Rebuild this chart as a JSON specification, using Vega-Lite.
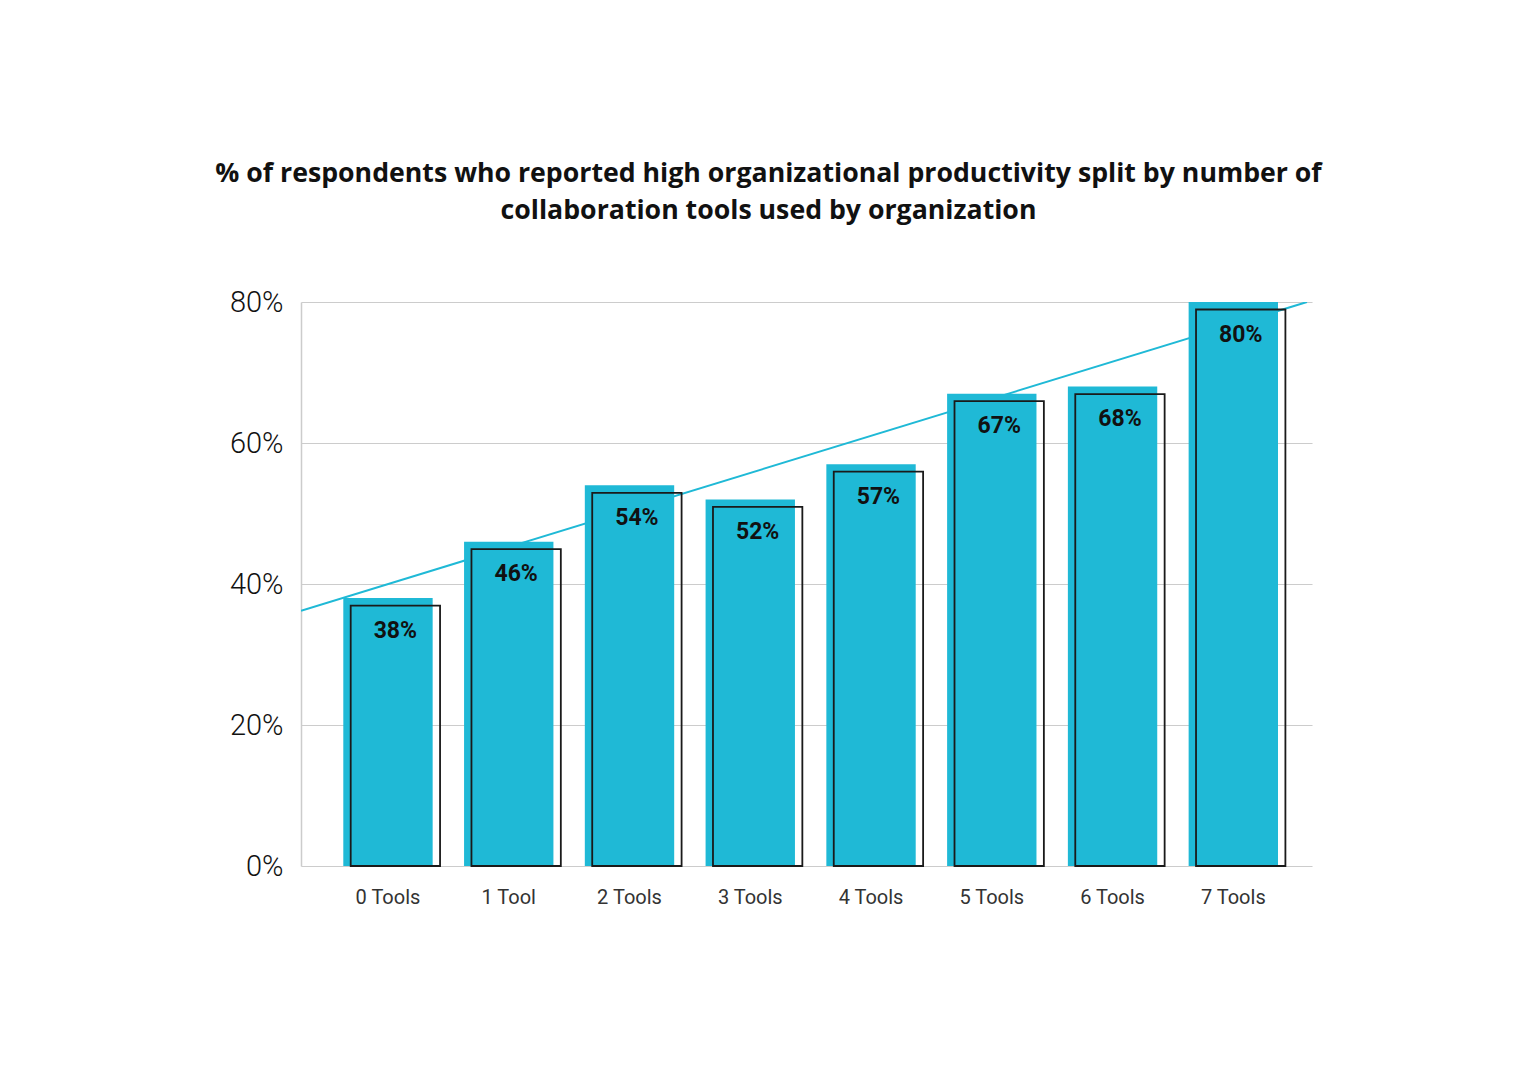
{
  "$schema": "https://vega.github.io/schema/vega-lite/v6.json",
  "autosize": {"type": "none"},
  "padding": {"left": 301, "top": 302, "right": 224, "bottom": 220},
  "width": 1011,
  "height": 564,
  "background": "white",
  "title": {
    "text": [
      "% of respondents who reported high organizational productivity split by number of",
      "collaboration tools used by organization"
    ],
    "anchor": "middle",
    "dx": -38,
    "offset": 36,
    "baseline": "bottom",
    "font": "Open Sans",
    "fontSize": 26.7,
    "fontWeight": "bold",
    "lineHeight": 37,
    "color": "#111111"
  },
  "datasets": {
    "bars": [
      {"tools": "0 Tools", "pct": 0.38},
      {"tools": "1 Tool", "pct": 0.46},
      {"tools": "2 Tools", "pct": 0.54},
      {"tools": "3 Tools", "pct": 0.52},
      {"tools": "4 Tools", "pct": 0.57},
      {"tools": "5 Tools", "pct": 0.67},
      {"tools": "6 Tools", "pct": 0.68},
      {"tools": "7 Tools", "pct": 0.80}
    ],
    "trend": [
      {"i": -0.72, "v": 0.362},
      {"i": 7.61, "v": 0.80}
    ]
  },
  "layer": [
    {
      "data": {"name": "trend"},
      "mark": {"type": "line", "color": "#1fb9d6", "strokeWidth": 2, "clip": true},
      "encoding": {
        "x": {"field": "i", "type": "quantitative", "scale": {"domain": [-0.7204, 7.6516], "nice": false, "zero": false}, "axis": null},
        "y": {
          "field": "v",
          "type": "quantitative",
          "scale": {"domain": [0, 0.8], "nice": false},
          "axis": {
            "title": null,
            "values": [0, 0.2, 0.4, 0.6, 0.8],
            "format": ".0%",
            "labelFont": "Roboto",
            "labelFontSize": 29,
            "labelFontWeight": 300,
            "labelColor": "#111111",
            "labelPadding": 18,
            "ticks": false,
            "domain": true,
            "domainColor": "#cccccc",
            "domainWidth": 1.5,
            "grid": true,
            "gridColor": "#cccccc",
            "gridWidth": 1.2
          }
        }
      }
    },
    {
      "data": {"name": "bars"},
      "layer": [
        {
          "mark": {"type": "bar", "color": "#1fb9d6"}
        },
        {
          "mark": {"type": "bar", "fill": null, "fillOpacity": 0, "stroke": "#1a1a1a", "strokeWidth": 1.8, "xOffset": 7.4, "yOffset": 7.5, "y2Offset": 0.01},
          "encoding": {
            "y2": {"datum": 0}
          }
        },
        {
          "mark": {"type": "text", "font": "Roboto", "fontSize": 23, "fontWeight": "bold", "color": "#111111", "baseline": "top", "dx": 7.4, "dy": 21.5},
          "encoding": {
            "text": {"field": "pct", "type": "quantitative", "format": ".0%"}
          }
        }
      ],
      "encoding": {
        "x": {
          "field": "tools",
          "type": "nominal",
          "sort": null,
          "scale": {"range": [26.6, 992.7], "paddingInner": 0.26, "paddingOuter": 0.13},
          "axis": {
            "title": null,
            "labelAngle": 0,
            "labelFont": "Roboto",
            "labelFontSize": 20,
            "labelFontWeight": 400,
            "labelColor": "#333333",
            "labelPadding": 21,
            "ticks": false,
            "domain": false,
            "grid": false
          }
        },
        "y": {
          "field": "pct",
          "type": "quantitative",
          "scale": {"domain": [0, 0.8], "nice": false},
          "axis": {
            "title": null,
            "values": [0, 0.2, 0.4, 0.6, 0.8],
            "format": ".0%",
            "labelFont": "Roboto",
            "labelFontSize": 29,
            "labelFontWeight": 300,
            "labelColor": "#111111",
            "labelPadding": 18,
            "ticks": false,
            "domain": true,
            "domainColor": "#cccccc",
            "domainWidth": 1.5,
            "grid": true,
            "gridColor": "#cccccc",
            "gridWidth": 1.2
          }
        }
      }
    }
  ],
  "resolve": {"scale": {"x": "independent"}},
  "config": {
    "view": {"stroke": null}
  }
}
